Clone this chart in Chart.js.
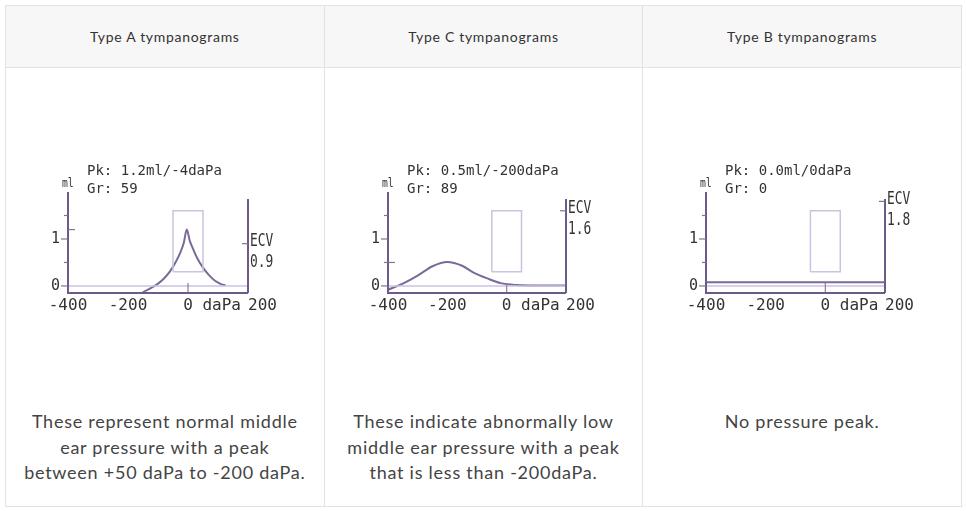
<!DOCTYPE html>
<html lang="en">
<head>
    <meta charset="UTF-8">
    <title>Tympanogram types</title>
    <script src="https://cdn.jsdelivr.net/npm/chart.js"></script>
    <style>
        html, body { margin: 0; padding: 0; background: #fff; }
        body { width: 966px; height: 511px; position: relative; overflow: hidden; font-family: Lato, "Open Sans", sans-serif; }
        table { position: absolute; left: 5px; top: 5px; width: 957px; height: 502px; border-collapse: collapse; table-layout: fixed; }
        th, td { border: 1px solid #e2e2e2; text-align: center; }
        th { height: 59px; background: #f7f7f7; font-weight: normal; font-size: 14px; letter-spacing: 0.7px; color: #333; }
        td { vertical-align: top; padding: 0; color: #444; font-size: 18px; letter-spacing: 0.75px; line-height: 25.5px; white-space: pre-line; }
        td p { margin: 341px 4px 0 4px; }
        canvas { position: absolute; }
    </style>
</head>
<body>
    <table>
        <thead><tr><th id="t0"></th><th id="t1"></th><th id="t2"></th></tr></thead>
        <tbody><tr><td><p id="n0"></p></td><td><p id="n1"></p></td><td><p id="n2"></p></td></tr></tbody>
    </table>
    <canvas id="c0" width="318" height="180" style="left:5px;top:140px"></canvas>
    <canvas id="c1" width="316" height="180" style="left:325px;top:140px"></canvas>
    <canvas id="c2" width="318" height="180" style="left:643px;top:140px"></canvas>
    <script>
        // column headings and notes
        const titles = ['Type A tympanograms', 'Type C tympanograms', 'Type B tympanograms'];
        const notes = [
            'These represent normal middle\near pressure with a peak\nbetween +50 daPa to -200 daPa.',
            'These indicate abnormally low\nmiddle ear pressure with a peak\nthat is less than -200daPa.',
            'No pressure peak.'
        ];

        // axes
        const pressureTicks = [-400, -200, 0, 200];
        const volumeTicks = [0, 0.5, 1, 1.5];
        const volumeLabels = ['0', '', '1', ''];

        // traces (daPa, ml)
        const typeAPressure = [-160, -140, -120, -100, -80, -60, -40, -25, -14, -4, 6, 16, 30, 50, 70, 90, 110, 125];
        const typeAVolume = [-0.17, -0.1, -0.03, 0.05, 0.16, 0.31, 0.52, 0.72, 0.92, 1.2, 0.96, 0.8, 0.6, 0.39, 0.23, 0.11, 0.04, 0.01];
        const typeCPressure = [-400, -350, -300, -250, -200, -150, -110, -65, -20, 35, 100, 200];
        const typeCVolume = [-0.08, 0.05, 0.22, 0.42, 0.51, 0.43, 0.28, 0.16, 0.06, 0.02, 0.01, 0.01];
        const typeBPressure = [-400, 200];
        const typeBVolume = [0.08, 0.08];

        // readouts
        const peakVolume = [1.2, 0.5, 0.0];
        const peakPressure = [-4, -200, 0];
        const gradient = [59, 89, 0];
        const ecv = [0.9, 1.6, 1.8];

        // normal box
        const boxPressure = [-50, 50];
        const boxVolume = [0.3, 1.6];

        const dark = '#6b5a8a';
        const curveColor = '#7b6a98';
        const light = '#cbc3e0';
        const textColor = '#333';
        const mono = '"DejaVu Sans Mono", monospace';

        titles.forEach((t, i) => document.getElementById('t' + i).textContent = t);
        notes.forEach((t, i) => document.getElementById('n' + i).textContent = t);

        const traces = [
            [typeAPressure, typeAVolume],
            [typeCPressure, typeCVolume],
            [typeBPressure, typeBVolume]
        ];
        const pads = [
            { left: 63, right: 75, top: 52, bottom: 27 },
            { left: 63, right: 75, top: 52, bottom: 27 },
            { left: 63, right: 76, top: 52, bottom: 27 }
        ];

        const toPoints = (xs, ys) => xs.map((x, i) => ({ x: x, y: ys[i] }));

        // draws a string squeezed horizontally
        function narrowText(ctx, str, x, y, sx) {
            ctx.save();
            ctx.translate(x, y);
            ctx.scale(sx, 1);
            ctx.fillText(str, 0, 0);
            ctx.restore();
        }

        const tympPlugin = {
            id: 'tymp',
            afterDatasetsDraw(chart) {
                const i = chart.options.plugins.tymp.index;
                const ctx = chart.ctx;
                const xs = chart.scales.x, ys = chart.scales.y;
                const left = xs.getPixelForValue(-400), right = xs.getPixelForValue(200);
                const bottom = ys.getPixelForValue(ys.min), top = ys.getPixelForValue(ys.max);
                ctx.save();

                // small tick at 0 daPa
                ctx.strokeStyle = '#8a7fa0';
                ctx.lineWidth = 1.2;
                ctx.beginPath();
                ctx.moveTo(xs.getPixelForValue(0), bottom);
                ctx.lineTo(xs.getPixelForValue(0), bottom - 10);
                ctx.stroke();

                // axes
                ctx.strokeStyle = dark;
                ctx.lineWidth = 2;
                ctx.beginPath();
                ctx.moveTo(left, top);
                ctx.lineTo(left, bottom);
                ctx.lineTo(right, bottom);
                ctx.moveTo(right, bottom);
                ctx.lineTo(right, ys.getPixelForValue(Math.max(1.85, ecv[i])));
                ctx.stroke();

                // y ticks
                ctx.lineWidth = 1.2;
                ctx.strokeStyle = '#7d7590';
                volumeTicks.forEach((v, k) => {
                    const y = ys.getPixelForValue(v);
                    ctx.beginPath();
                    ctx.moveTo(left - (volumeLabels[k] ? 7 : 4), y);
                    ctx.lineTo(left, y);
                    ctx.stroke();
                });
                // peak level marker
                if (peakVolume[i] > 0) {
                    const y = ys.getPixelForValue(peakVolume[i]);
                    ctx.beginPath();
                    ctx.moveTo(left, y);
                    ctx.lineTo(left + 7, y);
                    ctx.stroke();
                }
                // ECV marker
                const ey = ys.getPixelForValue(ecv[i]);
                ctx.beginPath();
                ctx.moveTo(right - 6, ey);
                ctx.lineTo(right, ey);
                ctx.stroke();

                ctx.fillStyle = textColor;
                ctx.textBaseline = 'middle';

                // y labels
                ctx.font = '15px ' + mono;
                ctx.textAlign = 'right';
                volumeTicks.forEach((v, k) => {
                    if (volumeLabels[k]) ctx.fillText(volumeLabels[k], left - 8, ys.getPixelForValue(v));
                });

                // x labels
                ctx.font = '16px ' + mono;
                ctx.textBaseline = 'alphabetic';
                const xb = bottom + 17;
                pressureTicks.forEach(p => {
                    const x = xs.getPixelForValue(p);
                    if (p === 0) {
                        const w = ctx.measureText('0').width;
                        ctx.textAlign = 'left';
                        ctx.fillText('0 daPa', x - w / 2, xb);
                    } else if (p === 200) {
                        ctx.textAlign = 'left';
                        ctx.fillText(String(p), x, xb);
                    } else {
                        ctx.textAlign = 'center';
                        ctx.fillText(String(p), x, xb);
                    }
                });

                // unit
                ctx.font = '13px ' + mono;
                ctx.textAlign = 'left';
                narrowText(ctx, 'ml', left - 6, top - 5, 0.75);

                // readouts
                ctx.font = '14px ' + mono;
                ctx.textAlign = 'left';
                const pk = 'Pk: ' + peakVolume[i].toFixed(1) + 'ml/' + peakPressure[i] + 'daPa';
                ctx.fillText(pk, left + 19, top - 17);
                ctx.fillText('Gr: ' + gradient[i], left + 19, top + 1);

                // ECV label, slightly condensed
                ctx.font = '17px ' + mono;
                ctx.textBaseline = 'middle';
                narrowText(ctx, 'ECV', right + 2, ey - 2, 0.76);
                narrowText(ctx, ecv[i].toFixed(1), right + 2, ey + 19, 0.76);

                ctx.restore();
            }
        };

        traces.forEach((tr, i) => {
            const ctx = document.getElementById('c' + i).getContext('2d');
            new Chart(ctx, {
                type: 'line',
                data: {
                    datasets: [
                        {
                            data: toPoints([-400, 200], [0, 0]),
                            borderColor: light,
                            borderWidth: 1.5,
                            pointRadius: 0
                        },
                        {
                            data: toPoints(
                                [boxPressure[0], boxPressure[0], boxPressure[1], boxPressure[1], boxPressure[0]],
                                [boxVolume[0], boxVolume[1], boxVolume[1], boxVolume[0], boxVolume[0]]),
                            borderColor: light,
                            borderWidth: 1.5,
                            pointRadius: 0,
                            tension: 0
                        },
                        {
                            data: toPoints(tr[0], tr[1]),
                            borderColor: curveColor,
                            borderWidth: 2,
                            pointRadius: 0,
                            cubicInterpolationMode: 'monotone'
                        }
                    ]
                },
                options: {
                    responsive: false,
                    animation: false,
                    layout: { padding: pads[i] },
                    scales: {
                        x: { type: 'linear', min: -400, max: 200, display: false },
                        y: { type: 'linear', min: -0.15, max: 2.0, display: false }
                    },
                    plugins: {
                        legend: { display: false },
                        tooltip: { enabled: false },
                        tymp: { index: i }
                    }
                },
                plugins: [tympPlugin]
            });
        });
    </script>
</body>
</html>
